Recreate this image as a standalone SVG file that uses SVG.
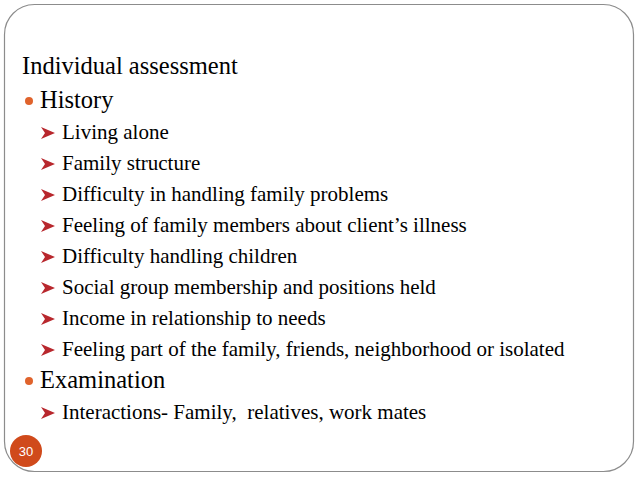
<svg xmlns="http://www.w3.org/2000/svg" width="638" height="478" viewBox="0 0 638 478">
<style>
.t{font-family:"Liberation Serif","Times New Roman",serif;fill:#000}
.h{font-size:24.5px}
.s{font-size:21px}
.a{fill:#B8272D}
.b{fill:#E0632C}
</style>
<defs><path id="arr" d="M0,-6 L14,0 L0,6 L4,0 Z"/></defs>
<rect x="4.5" y="4.5" width="629" height="467" rx="30" fill="#fff" stroke="#8c8c8c" stroke-width="1.2"/>
<g id="title"><text class="t h" x="22" y="74">Individual assessment</text></g>
<g id="history"><circle class="b" cx="29" cy="101" r="4"/><text class="t h" x="40" y="108">History</text></g>
<g id="items" class="t s">
<use href="#arr" class="a" x="41" y="133"/><text x="62" y="139">Living alone</text>
<use href="#arr" class="a" x="41" y="164"/><text x="62" y="170">Family structure</text>
<use href="#arr" class="a" x="41" y="195"/><text x="62" y="201">Difficulty in handling family problems</text>
<use href="#arr" class="a" x="41" y="226"/><text x="62" y="232">Feeling of family members about client’s illness</text>
<use href="#arr" class="a" x="41" y="257"/><text x="62" y="263">Difficulty handling children</text>
<use href="#arr" class="a" x="41" y="288"/><text x="62" y="294">Social group membership and positions held</text>
<use href="#arr" class="a" x="41" y="319"/><text x="62" y="325">Income in relationship to needs</text>
<use href="#arr" class="a" x="41" y="350"/><text x="62" y="356">Feeling part of the family, friends, neighborhood or isolated</text>
</g>
<g id="exam"><circle class="b" cx="29" cy="381" r="4"/><text class="t h" x="40" y="388">Examination</text></g>
<g id="items2" class="t s"><use href="#arr" class="a" x="41" y="413"/><text x="62" y="419" xml:space="preserve">Interactions- Family,  relatives, work mates</text></g>
<g id="page"><circle cx="26" cy="451" r="16" fill="#D04A1B"/><text x="26" y="456" text-anchor="middle" font-family="Liberation Sans,Arial,sans-serif" font-size="13" fill="#fff">30</text></g>
</svg>
